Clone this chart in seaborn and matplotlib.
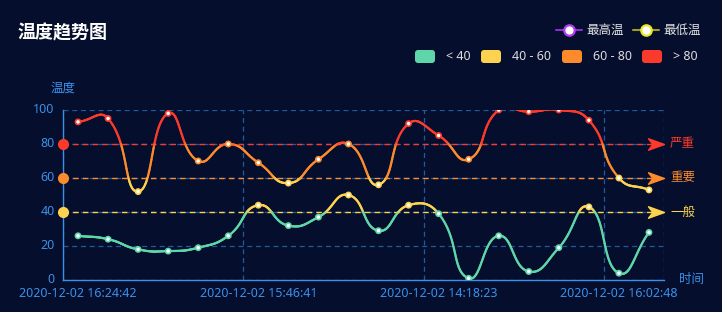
import numpy as np
import pandas as pd
import matplotlib
matplotlib.use("Agg")
import matplotlib.pyplot as plt
import matplotlib.transforms as mtransforms
import seaborn as sns
from matplotlib.collections import LineCollection
from matplotlib.colors import LinearSegmentedColormap
from matplotlib.patches import FancyBboxPatch
from matplotlib.path import Path

# ---------------- data ----------------
high_temps = [93, 95, 52, 98, 70, 80, 69, 57, 71, 80, 56, 92, 85, 71, 100, 99, 100, 94, 60, 53]
low_temps = [26, 24, 18, 17, 19, 26, 44, 32, 37, 50, 29, 44, 39, 1, 26, 5, 19, 43, 4, 28]
tick_positions = [0, 6, 12, 18]
tick_labels = ["2020-12-02 16:24:42", "2020-12-02 15:46:41",
               "2020-12-02 14:18:23", "2020-12-02 16:02:48"]
series_names = ["最高温", "最低温"]
piece_labels = ["< 40", "40 - 60", "60 - 80", "> 80"]
piece_bounds = [40, 60, 80]
piece_colors = ["#5ed6a9", "#fdd24e", "#fd8a2b", "#fc3a2c"]
alert_levels = [40, 60, 80]
alert_names = ["一般", "重要", "严重"]
alert_colors = ["#fdd24e", "#fd8a2b", "#fc3a2c"]
legend_line_colors = ["#8e2bd0", "#9c9c1e"]
legend_edge_colors = ["#b43cf0", "#e8e82a"]
y_ticks = [0, 20, 40, 60, 80, 100]

# ---------------- style ----------------
W, H = 722, 312
BG = "#050e2c"
BLUE = "#3b90ea"
GRID = "#1d5aa0"
LATIN = ["Noto Sans", "Noto Sans CJK SC", "DejaVu Sans"]
sns.set_style("dark")
plt.rcParams["font.family"] = ["Noto Sans CJK SC", "DejaVu Sans"]

fig = plt.figure(figsize=(W / 100, H / 100), dpi=100, facecolor=BG)

# overlay in pixel coordinates for title / legends
ov = fig.add_axes([0, 0, 1, 1])
ov.set_xlim(0, W)
ov.set_ylim(H, 0)
ov.axis("off")
ov.set_facecolor("none")

L, R, T, B = 63, 664, 110, 280
ax = fig.add_axes([L / W, 1 - B / H, (R - L) / W, (B - T) / H])
ax.set_facecolor("none")

n = len(high_temps)
x = np.arange(n)
ax.set_xlim(-0.5, n - 0.5)
ax.set_ylim(0, 100)
px_x = (R - L) / n
px_y = (B - T) / 100.0

# piecewise colour mapping
b = 1.5
stops = [(0, piece_colors[0])]
for bd, c0, c1 in zip(piece_bounds, piece_colors[:-1], piece_colors[1:]):
    stops += [((bd - b) / 100, c0), ((bd + b) / 100, c1)]
stops.append((1, piece_colors[-1]))
cmap = LinearSegmentedColormap.from_list("pieces", stops)


def piece_color(v):
    for bd, c in zip(piece_bounds, piece_colors):
        if v <= bd:
            return c
    return piece_colors[-1]


def smooth_curve(xs, ys, smooth=0.5, steps=40):
    P = np.column_stack([np.asarray(xs, float) * px_x, np.asarray(ys, float) * px_y])
    m = len(P)
    cp_in = np.zeros_like(P)
    cp_out = np.zeros_like(P)
    for i in range(m):
        prev = P[i - 1] if i > 0 else P[i]
        nxt = P[i + 1] if i < m - 1 else P[i]
        v = nxt - prev
        d0 = np.linalg.norm(P[i] - prev)
        d1 = np.linalg.norm(nxt - P[i])
        ratio = d1 / (d0 + d1) if (d0 + d1) > 0 else 0.5
        cp_in[i] = P[i] - v * smooth * (1 - ratio)
        cp_out[i] = P[i] + v * smooth * ratio
    t = np.linspace(0, 1, steps)[:, None]
    pts = []
    for i in range(m - 1):
        p0, c1, c2, p3 = P[i], cp_out[i], cp_in[i + 1], P[i + 1]
        seg = ((1 - t) ** 3) * p0 + 3 * ((1 - t) ** 2) * t * c1 + 3 * (1 - t) * t ** 2 * c2 + t ** 3 * p3
        pts.append(seg if i == 0 else seg[1:])
    pts = np.vstack(pts)
    return pts[:, 0] / px_x, pts[:, 1] / px_y


# grid
ax.set_yticks(y_ticks)
ax.set_xticks(tick_positions)
ax.set_xticklabels(tick_labels)
bounds = [p - 0.5 for p in tick_positions] + [n - 0.5]
ax.set_xticks(bounds, minor=True)
ax.grid(axis="y", which="major", color=GRID, linestyle=(0, (4, 3)), linewidth=0.9)
ax.grid(axis="x", which="minor", color=GRID, linestyle=(0, (4, 3)), linewidth=0.9)
ax.grid(axis="x", which="major", visible=False)
ax.set_axisbelow(True)

for s in ["top", "right"]:
    ax.spines[s].set_visible(False)
for s in ["left", "bottom"]:
    ax.spines[s].set_color(BLUE)
    ax.spines[s].set_linewidth(1.0)

ax.tick_params(axis="x", which="major", length=0, pad=5.0, labelsize=9, labelcolor=BLUE)
ax.tick_params(axis="x", which="minor", length=4, width=1, color=BLUE, direction="out")
ax.tick_params(axis="y", length=0, pad=6, labelsize=9, labelcolor=BLUE)
for lab in ax.get_xticklabels() + ax.get_yticklabels():
    lab.set_fontfamily(LATIN)
shift_up = mtransforms.ScaledTranslation(0, 2 / 100, fig.dpi_scale_trans)
for lab in ax.get_yticklabels():
    lab.set_transform(lab.get_transform() + shift_up)

# mark lines (alert thresholds)
arrow_path = Path([(1, 0), (-1, 0.72), (-0.45, 0), (-1, -0.72), (1, 0)],
                  [Path.MOVETO, Path.LINETO, Path.LINETO, Path.LINETO, Path.CLOSEPOLY])
arrow_x = (n - 0.5) - 8 / px_x
for lvl, name, col in zip(alert_levels, alert_names, alert_colors):
    ax.axhline(lvl, color=col, linestyle=(0, (4, 3)), linewidth=1.0, zorder=2)
    ax.plot([-0.5], [lvl], "o", ms=7, color=col, clip_on=False, zorder=5)
    ax.plot([arrow_x], [lvl], marker=arrow_path, ms=11.5, color=col, mec=col,
            clip_on=False, zorder=5, linestyle="none")
    ax.annotate(name, xy=(n - 0.5, lvl), xytext=(6, 0), textcoords="offset pixels",
                color=col, fontsize=9, va="center", ha="left", annotation_clip=False)

# smooth gradient lines
norm = plt.Normalize(0, 100)
for vals in [high_temps, low_temps]:
    sx, sy = smooth_curve(x, vals)
    pts = np.column_stack([sx, sy]).reshape(-1, 1, 2)
    segs = np.concatenate([pts[:-1], pts[1:]], axis=1)
    mid = (sy[:-1] + sy[1:]) / 2
    lc = LineCollection(segs, colors=cmap(norm(mid)), linewidths=1.6, zorder=3,
                        capstyle="round")
    ax.add_collection(lc)

# points
df = pd.DataFrame({
    "idx": np.concatenate([x, x]),
    "temp": high_temps + low_temps,
    "series": [series_names[0]] * n + [series_names[1]] * n,
})
edge_cols = [piece_color(v) for v in df["temp"]]
sns.scatterplot(data=df, x="idx", y="temp", ax=ax, color="white", edgecolor=edge_cols,
                linewidth=1.2, s=14, zorder=4, legend=False)
ax.set_xlabel("")
ax.set_ylabel("")

# axis names
ax.annotate("温度", xy=(0, 1), xycoords="axes fraction", xytext=(0, 22),
            textcoords="offset pixels", ha="center", va="center", color=BLUE, fontsize=9,
            annotation_clip=False)
ax.annotate("时间", xy=(1, 0), xycoords="axes fraction", xytext=(15, 1),
            textcoords="offset pixels", ha="left", va="center", color=BLUE, fontsize=9,
            annotation_clip=False)

# title
ov.text(18, 33, "温度趋势图", color="white", fontsize=13, fontweight="bold",
        va="center", ha="left")

# series legend
leg_x = [556, 633]
for lx, name, lc_, ec in zip(leg_x, series_names, legend_line_colors, legend_edge_colors):
    ov.plot([lx, lx + 26], [30, 30], color=lc_, lw=1.5)
    ov.plot([lx + 13], [30], "o", ms=7.5, mfc="white", mec=ec, mew=1.6)
    ov.text(lx + 30, 30, name, color="#e2e2e2", fontsize=9, va="center", ha="left")

# visual map pieces legend
piece_x = [415, 481, 562, 642]
for px0, lab, col in zip(piece_x, piece_labels, piece_colors):
    ov.add_patch(FancyBboxPatch((px0, 50), 20, 13, boxstyle="round,pad=0,rounding_size=3",
                                facecolor=col, edgecolor="none"))
    ov.text(px0 + 31, 56.5, lab, color="#dcdcdc", fontsize=9, va="center", ha="left",
            fontfamily=LATIN)

fig.savefig("out.png", dpi=100, facecolor=BG)
